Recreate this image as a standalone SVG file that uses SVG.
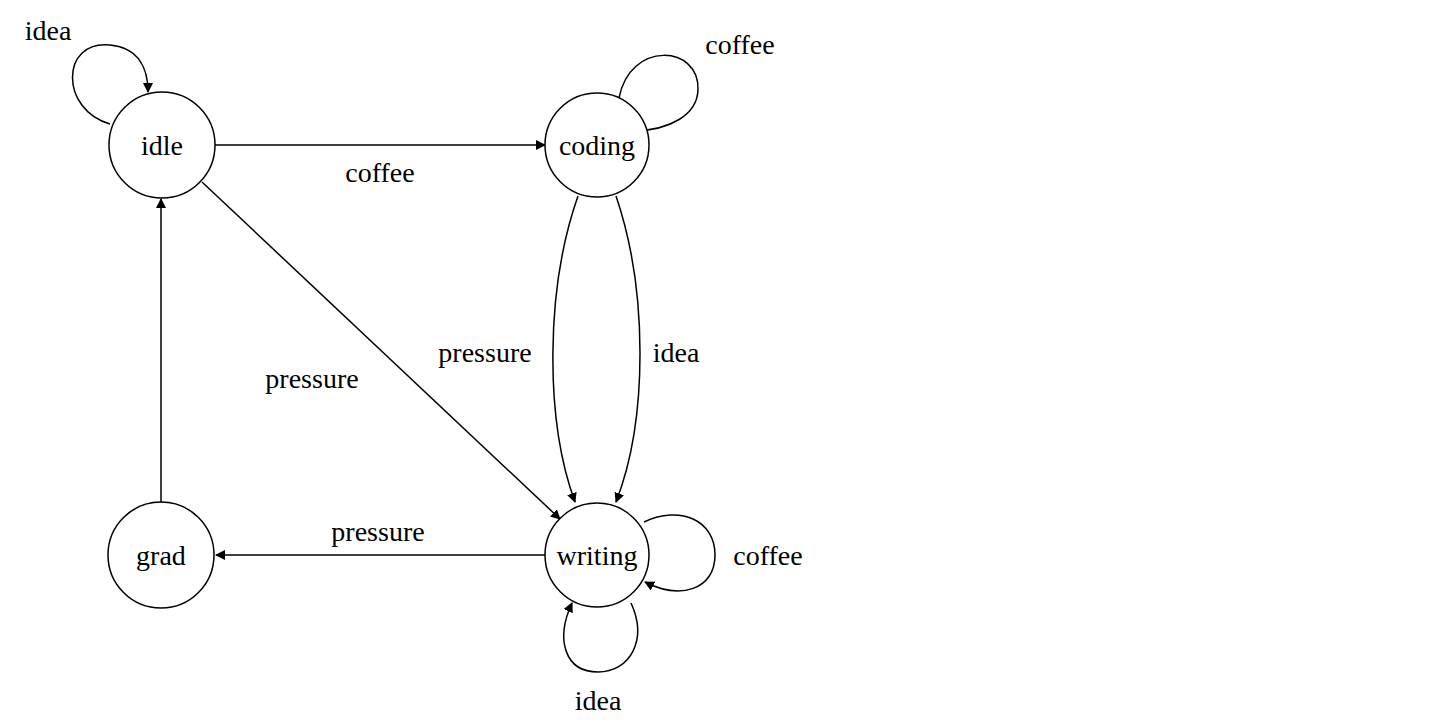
<svg xmlns="http://www.w3.org/2000/svg" width="1440" height="726" viewBox="0 0 1440 726">
<style>
.n{fill:#fff;stroke:#000;stroke-width:1.5}
.e{fill:none;stroke:#000;stroke-width:1.5;marker-end:url(#a)}
text{font-family:"Liberation Serif",serif;font-size:28px;fill:#000;text-anchor:middle;dominant-baseline:central}
</style>
<defs><marker id="a" markerWidth="10" markerHeight="10" refX="9" refY="5" orient="auto" markerUnits="userSpaceOnUse"><path d="M0,0L10,5L0,10z"/></marker></defs>
<rect width="1440" height="726" fill="#fff"/>
<g id="connectors">
<path class="e" d="M110,124 C60,110 60,40 110,45 C140,48 148,70 148,92"/>
<path class="e" d="M619,98 C630,40 700,45 698,90 C697,115 670,130 634,131"/>
<path class="e" d="M644,522 C680,505 715,520 715,555 C715,590 680,600 645,582"/>
<path class="e" d="M631,603 C648,640 630,672 598,672 C565,672 555,640 572,603"/>
<path class="e" d="M215,145 L545,145"/>
<path class="e" d="M202,182 L560,519"/>
<path class="e" d="M578,196 C545,290 545,420 575,502"/>
<path class="e" d="M616,196 C648,290 648,420 616,502"/>
<path class="e" d="M545,555 L216,555"/>
<path class="e" d="M161,502 L161,199"/>
<text x="48" y="30">idea</text>
<text x="740" y="44">coffee</text>
<text x="768" y="555">coffee</text>
<text x="598" y="700">idea</text>
<text x="380" y="172">coffee</text>
<text x="312" y="378">pressure</text>
<text x="485" y="352">pressure</text>
<text x="676" y="352">idea</text>
<text x="378" y="531">pressure</text>
</g>
<g id="idle"><circle class="n" cx="162" cy="145" r="53"/><text x="162" y="145">idle</text></g>
<g id="coding"><circle class="n" cx="597" cy="145" r="52"/><text x="597" y="145">coding</text></g>
<g id="grad"><circle class="n" cx="161" cy="555" r="53"/><text x="161" y="555">grad</text></g>
<g id="writing"><circle class="n" cx="597" cy="555" r="52"/><text x="597" y="555">writing</text></g>
</svg>
